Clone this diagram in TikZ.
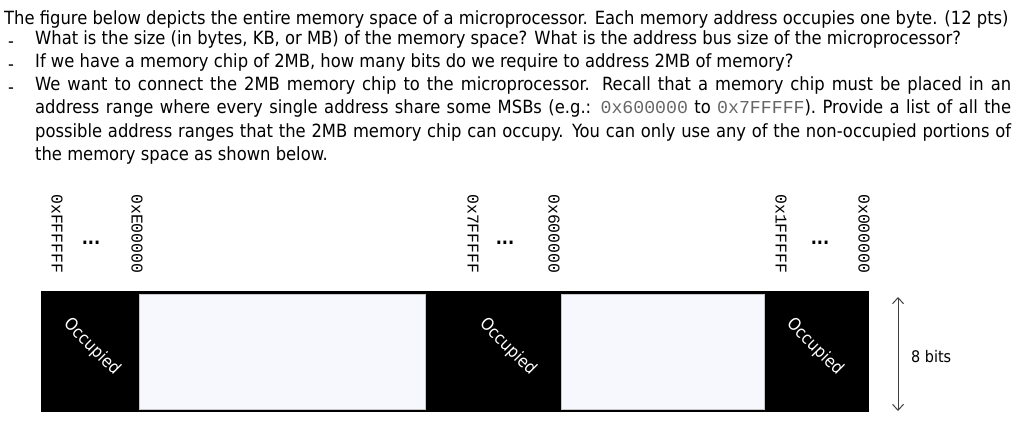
\documentclass[tikz,border=0pt]{standalone}
\usepackage{fontspec}
\usetikzlibrary{arrows.meta}
\setmainfont{DejaVu Sans Condensed}
\newfontfamily\monof{Liberation Mono}
\begin{document}
\begin{tikzpicture}[x=1pt,y=-1pt,
  addr/.style={font=\monof\fontsize{16.5}{16.5}\selectfont,rotate=-90,anchor=west,inner sep=0},
  occ/.style={font=\fontsize{17}{17}\selectfont,text=white,rotate=-45,inner sep=0},
  dots/.style={font=\bfseries\fontsize{18}{18}\selectfont,inner sep=0},
  dashmark/.style={font=\fontsize{18}{18}\selectfont,anchor=base west,inner sep=0},
  freebox/.style={fill={rgb,255:red,246;green,248;blue,253},draw={rgb,255:red,200;green,200;blue,200},line width=0.6pt}]
\useasboundingbox (0,0) rectangle (1024,442);
\def\tf{\fontsize{18.2}{23.3}\selectfont}
\node[anchor=base west,inner sep=0,font=\tf] (l1) at (4,24) {The figure below depicts the entire memory space of a microprocessor. Each memory address occupies one byte. (12 pts)};
\node[dashmark] (d1) at (8,47) {-};
\node[dashmark] (d2) at (8,70) {-};
\node[dashmark] (d3) at (8,93) {-};
\node[anchor=north west,inner sep=0,font=\tf,text width=976pt,align=justify] (body) at (35,30) {What is the size (in bytes, KB, or MB) of the memory space? What is the address bus size of the microprocessor?\newline
If we have a memory chip of 2MB, how many bits do we require to address 2MB of memory?\newline
We want to connect the 2MB memory chip to the microprocessor. Recall that a memory chip must be placed in an\linebreak address range where every single address share some MSBs (e.g.: {\monof\color{gray!80!black}0x600000} to {\monof\color{gray!80!black}0x7FFFFF}). Provide a list of all the\linebreak possible address ranges that the 2MB memory chip can occupy. You can only use any of the non-occupied portions of\linebreak the memory space as shown below.};
% memory bar
\fill[black] (41,291) rectangle (869,412);
\node[freebox,minimum width=286pt,minimum height=115pt,anchor=north west,inner sep=0] (f1) at (139,294) {};
\node[freebox,minimum width=203pt,minimum height=115pt,anchor=north west,inner sep=0] (f2) at (561,294) {};
\node[occ] (o1) at (92,347) {Occupied};
\node[occ] (o2) at (508,347) {Occupied};
\node[occ] (o3) at (815,347) {Occupied};
\node[addr] (a1) at (57,194) {0xFFFFFF};
\node[addr] (a2) at (137,194) {0xE00000};
\node[addr] (a3) at (473,194) {0x7FFFFF};
\node[addr] (a4) at (554,194) {0x600000};
\node[addr] (a5) at (781,194) {0x1FFFFF};
\node[addr] (a6) at (864,194) {0x000000};
\node[dots] (p1) at (91,243) {...};
\node[dots] (p2) at (505,243) {...};
\node[dots] (p3) at (820,243) {...};
\coordinate (t) at (898,297);
\coordinate (b) at (898,411);
\draw[{Straight Barb[length=6pt,width=11pt]}-{Straight Barb[length=6pt,width=11pt]},line width=1pt,black!75] (t) -- (b);
\node[font=\fontsize{16}{16}\selectfont,anchor=west,inner sep=0] (bits) at (911,357) {8 bits};
\end{tikzpicture}
\end{document}
